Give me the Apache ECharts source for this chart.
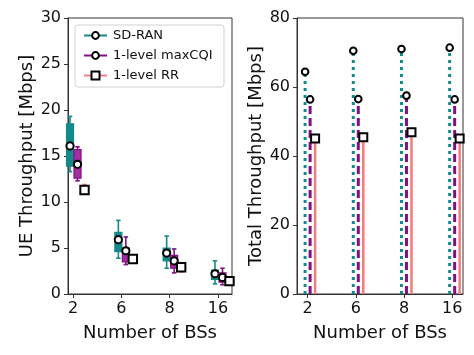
<!DOCTYPE html>
<html>
<head>
<meta charset="utf-8">
<script src="https://cdn.jsdelivr.net/npm/echarts@6/dist/echarts.min.js"></script>
<style>html,body{margin:0;padding:0;background:#fff}#c{width:474px;height:355px}</style>
</head>
<body>
<div id="c"></div>
<script>
// ---- data ----
const categories = ['2', '6', '8', '16'];
const seriesNames = ['SD-RAN', '1-level maxCQI', '1-level RR'];
// per-UE throughput box stats: [low whisker, q1, q3, high whisker, mean]
const ueSdran  = [[13.3, 13.9, 18.5, 19.3, 16.1], [3.9, 4.6, 6.7, 8.0, 5.9], [2.8, 3.6, 5.0, 6.3, 4.45], [1.1, 1.6, 2.6, 3.6, 2.2]];
const ueMaxcqi = [[12.3, 12.6, 15.7, 16.0, 14.1], [3.2, 3.5, 5.0, 6.2, 4.7], [2.3, 2.8, 4.2, 4.9, 3.6], [1.0, 1.3, 2.3, 2.8, 1.8]];
const ueRr     = [[11.1, 11.2, 11.6, 11.9, 11.3], [3.5, 3.6, 4.0, 4.1, 3.8], [2.4, 2.6, 3.1, 3.3, 2.9], [1.2, 1.3, 1.6, 1.7, 1.4]];
// total throughput
const totSdran  = [64.4, 70.5, 71.0, 71.4];
const totMaxcqi = [56.4, 56.5, 57.5, 56.4];
const totRr     = [45.1, 45.4, 46.9, 45.1];
const leftTicks = [0, 5, 10, 15, 20, 25, 30];
const rightTicks = [0, 20, 40, 60, 80];

// ---- styles ----
const TEAL = '#128a8a', PURPLE = '#860d86', PINK = '#f08080';
const FONT = 'DejaVu Sans';
const TXT = '#111';

function boxData(arr) { return arr.map((s, i) => [i].concat(s)); }
function stemData(arr) { return arr.map((v, i) => [i, v]); }

function boxRenderer(color, fill, dx, marker) {
  return function (params, api) {
    const i = api.value(0);
    const lo = api.coord([i, api.value(1)]);
    const q1 = api.coord([i, api.value(2)]);
    const q3 = api.coord([i, api.value(3)]);
    const hi = api.coord([i, api.value(4)]);
    const mn = api.coord([i, api.value(5)]);
    const x = lo[0] + dx, w = 7, cw = 4.5;
    const ch = [
      {type: 'line', shape: {x1: x, y1: hi[1], x2: x, y2: lo[1]}, style: {stroke: color, lineWidth: 1.6}},
      {type: 'line', shape: {x1: x - cw / 2, y1: hi[1], x2: x + cw / 2, y2: hi[1]}, style: {stroke: color, lineWidth: 1.6}},
      {type: 'line', shape: {x1: x - cw / 2, y1: lo[1], x2: x + cw / 2, y2: lo[1]}, style: {stroke: color, lineWidth: 1.6}},
      {type: 'rect', shape: {x: x - w / 2, y: q3[1], width: w, height: q1[1] - q3[1]}, style: {fill: fill, stroke: color, lineWidth: 1.2}}
    ];
    if (marker === 'circle') {
      ch.push({type: 'circle', shape: {cx: x, cy: mn[1], r: 3.6}, style: {fill: '#fff', stroke: '#000', lineWidth: 2}});
    } else {
      ch.push({type: 'rect', shape: {x: x - 4.2, y: mn[1] - 4.2, width: 8.4, height: 8.4}, style: {fill: '#fff', stroke: '#000', lineWidth: 2}});
    }
    return {type: 'group', children: ch};
  };
}

function stemRenderer(color, dash, dx, marker) {
  return function (params, api) {
    const i = api.value(0);
    const top = api.coord([i, api.value(1)]);
    const base = api.coord([i, 0]);
    const x = top[0] + dx;
    const ch = [
      {type: 'line', shape: {x1: x, y1: base[1], x2: x, y2: top[1]}, style: {stroke: color, lineWidth: dash === 'solid' ? 2.6 : 3, lineDash: dash === 'solid' ? null : dash}}
    ];
    if (marker === 'circle') {
      ch.push({type: 'circle', shape: {cx: x, cy: top[1], r: 3.3}, style: {fill: '#fff', stroke: '#000', lineWidth: 2}});
    } else {
      ch.push({type: 'rect', shape: {x: x - 4, y: top[1] - 4, width: 8, height: 8}, style: {fill: '#fff', stroke: '#000', lineWidth: 2}});
    }
    return {type: 'group', children: ch};
  };
}

const catIdx = categories.map((c, i) => i);
function xAxisCfg(gridIndex, min, max) {
  return {
    type: 'value', gridIndex: gridIndex, min: min, max: max,
    name: 'Number of BSs', nameLocation: 'middle', nameGap: 30,
    nameTextStyle: {fontFamily: FONT, fontSize: 18, color: TXT},
    splitLine: {show: false},
    axisLine: {show: true, onZero: false, lineStyle: {color: '#333', width: 1}},
    axisTick: {show: true, inside: false, length: 4, customValues: catIdx, lineStyle: {color: '#333'}},
    axisLabel: {show: true, customValues: catIdx, margin: 7, fontFamily: FONT, fontSize: 16, color: TXT,
      formatter: v => categories[Math.round(v)]}
  };
}
function yAxisCfg(gridIndex, max, interval, name, gap) {
  return {
    type: 'value', gridIndex: gridIndex, min: 0, max: max, interval: interval,
    name: name, nameLocation: 'middle', nameGap: gap,
    nameTextStyle: {fontFamily: FONT, fontSize: 18, color: TXT},
    splitLine: {show: false},
    axisLine: {show: true, onZero: false, lineStyle: {color: '#333', width: 1}},
    axisTick: {show: true, length: 4, lineStyle: {color: '#333'}},
    axisLabel: {margin: 7, fontFamily: FONT, fontSize: 16, color: TXT}
  };
}

// legend (drawn as graphic)
const legX = 75, legY = 25;
const legRows = [
  {name: seriesNames[0], color: TEAL, marker: 'circle'},
  {name: seriesNames[1], color: PURPLE, marker: 'circle'},
  {name: seriesNames[2], color: PINK, marker: 'rect'}
];
const legendGraphics = [{
  type: 'rect', shape: {x: legX, y: legY, width: 149, height: 62, r: 3},
  style: {fill: 'rgba(255,255,255,0.85)', stroke: '#d0d0d0', lineWidth: 1}, z: 100
}];
legRows.forEach((r, k) => {
  const y = legY + 10.5 + k * 20;
  legendGraphics.push({type: 'line', shape: {x1: legX + 9, y1: y, x2: legX + 32, y2: y}, style: {stroke: r.color, lineWidth: 2}, z: 101});
  if (r.marker === 'circle') {
    legendGraphics.push({type: 'circle', shape: {cx: legX + 20.5, cy: y, r: 3.4}, style: {fill: '#fff', stroke: '#000', lineWidth: 2}, z: 102});
  } else {
    legendGraphics.push({type: 'rect', shape: {x: legX + 16.5, y: y - 4, width: 8, height: 8}, style: {fill: '#fff', stroke: '#000', lineWidth: 2}, z: 102});
  }
  legendGraphics.push({type: 'text', x: legX + 38, y: y, style: {text: r.name, fontFamily: FONT, fontSize: 13, fill: TXT, verticalAlign: 'middle'}, z: 102});
});

const option = {
  animation: false,
  backgroundColor: '#fff',
  grid: [
    {left: 68, top: 18, width: 164, height: 276, show: true, borderColor: '#333', borderWidth: 1, backgroundColor: 'transparent'},
    {left: 297, top: 18, width: 166, height: 276, show: true, borderColor: '#333', borderWidth: 1, backgroundColor: 'transparent'}
  ],
  xAxis: [xAxisCfg(0, -0.104, 3.29), xAxisCfg(1, -0.22, 3.225)],
  yAxis: [
    yAxisCfg(0, leftTicks[leftTicks.length - 1], leftTicks[1] - leftTicks[0], 'UE Throughput [Mbps]', 30),
    yAxisCfg(1, rightTicks[rightTicks.length - 1], rightTicks[1] - rightTicks[0], 'Total Throughput [Mbps]', 30)
  ],
  series: [
    {type: 'custom', name: seriesNames[0], xAxisIndex: 0, yAxisIndex: 0, data: boxData(ueSdran), renderItem: boxRenderer(TEAL, TEAL, -3, 'circle'), encode: {x: 0, y: [1, 2, 3, 4, 5]}},
    {type: 'custom', name: seriesNames[1], xAxisIndex: 0, yAxisIndex: 0, data: boxData(ueMaxcqi), renderItem: boxRenderer(PURPLE, '#a0309f', 4.5, 'circle'), encode: {x: 0, y: [1, 2, 3, 4, 5]}},
    {type: 'custom', name: seriesNames[2], xAxisIndex: 0, yAxisIndex: 0, data: boxData(ueRr), renderItem: boxRenderer(PINK, PINK, 11.5, 'rect'), encode: {x: 0, y: [1, 2, 3, 4, 5]}},
    {type: 'custom', name: seriesNames[0], xAxisIndex: 1, yAxisIndex: 1, data: stemData(totSdran), renderItem: stemRenderer(TEAL, [3, 4], -2.5, 'circle'), encode: {x: 0, y: 1}},
    {type: 'custom', name: seriesNames[1], xAxisIndex: 1, yAxisIndex: 1, data: stemData(totMaxcqi), renderItem: stemRenderer(PURPLE, [8, 4], 2.5, 'circle'), encode: {x: 0, y: 1}},
    {type: 'custom', name: seriesNames[2], xAxisIndex: 1, yAxisIndex: 1, data: stemData(totRr), renderItem: stemRenderer(PINK, 'solid', 7.5, 'rect'), encode: {x: 0, y: 1}}
  ],
  graphic: legendGraphics
};

const chart = echarts.init(document.getElementById('c'), null, {renderer: 'canvas'});
chart.setOption(option);
</script>
</body>
</html>
